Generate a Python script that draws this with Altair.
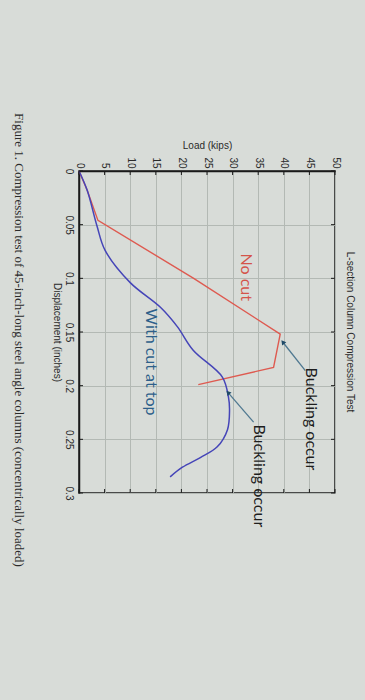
import math
import altair as alt
import pandas as pd

# ---------------- data ----------------
red_disp = [0.0, 0.018, 0.046, 0.100, 0.152, 0.183, 0.199]
red_load = [0.0, 1.6, 3.7, 22.4, 39.3, 38.0, 23.3]

blue_disp = [0.0, 0.018, 0.051, 0.074, 0.104, 0.127, 0.145, 0.167, 0.192,
             0.211, 0.223, 0.241, 0.257, 0.267, 0.276, 0.285]
blue_load = [0.0, 1.6, 3.5, 5.1, 10.0, 15.9, 19.2, 22.3, 28.0,
             29.2, 29.4, 29.0, 27.0, 23.7, 20.2, 17.8]

load_ticks = [0, 5, 10, 15, 20, 25, 30, 35, 40, 45, 50]
disp_ticks = [0, 0.05, 0.1, 0.15, 0.2, 0.25, 0.3]

note_text = ["No cut", "With cut at top", "Buckling occur", "Buckling occur"]
note_load = [32.7, 14.1, 45.4, 35.2]
note_disp = [0.099, 0.178, 0.231, 0.284]
note_color = ["#d4544a", "#2d5f8a", "#1e1e1e", "#1e1e1e"]

arrow_load = [44.2, 34.1]
arrow_disp = [0.186, 0.234]
arrow_load2 = [39.9, 29.2]
arrow_disp2 = [0.160, 0.207]

title_text = "L-section Column Compression Test"
caption_text = ("Figure 1. Compression test of 45-inch-long steel angle "
                "columns (concentrically loaded)")

# ---------------- layout / style ----------------
W, H = 256, 322
TICK = 4
BG = "#d8dcd8"
AXIS_FONT = "Liberation Sans"
NOTE_FONT = "Lato"

red_df = pd.DataFrame({"disp": red_disp, "load": red_load,
                       "i": list(range(len(red_disp)))})
blue_df = pd.DataFrame({"disp": blue_disp, "load": blue_load,
                        "i": list(range(len(blue_disp)))})
notes_df = pd.DataFrame({"text": note_text, "load": note_load,
                         "disp": note_disp, "color": note_color})

angles = []
for l1, d1, l2, d2 in zip(arrow_load, arrow_disp, arrow_load2, arrow_disp2):
    dx = (l2 - l1) * W / 50.0
    dy = (d2 - d1) * H / 0.3
    angles.append(math.degrees(math.atan2(dx, -dy)) % 360)
arrows_df = pd.DataFrame({"load": arrow_load, "disp": arrow_disp,
                          "load2": arrow_load2, "disp2": arrow_disp2,
                          "ang": angles})

x_scale = alt.Scale(domain=[0, 50], nice=False, zero=False)
y_scale = alt.Scale(domain=[0, 0.3], nice=False, reverse=True)
x_axis = alt.Axis(
    orient="top", values=load_ticks, title="Load (kips)",
    labelAngle=90, labelAlign="right", labelBaseline="middle",
    labelPadding=3, labelOverlap=False, labelFlush=False,
    tickSize=0, grid=True, titleAngle=0,
    titlePadding=6, labelFont=AXIS_FONT, labelFontSize=10,
    titleFont=AXIS_FONT, titleFontSize=10, titleFontWeight="normal",
    labelColor="#2a2a2a", titleColor="#2a2a2a",
    domainColor="#1a1a1a", domainWidth=1.5,
    gridColor="#b3b9b4", gridWidth=1,
)
y_axis = alt.Axis(
    orient="left", values=disp_ticks, format="~g",
    title="Displacement (inches)",
    labelAngle=90, labelAlign="center", labelBaseline="top",
    labelPadding=6, labelOverlap=False, labelFlush=False,
    tickSize=0, grid=True, titleAngle=90,
    titleBaseline="top", titleAlign="center", titlePadding=2,
    labelFont=AXIS_FONT, labelFontSize=10,
    titleFont=AXIS_FONT, titleFontSize=10, titleFontWeight="normal",
    labelColor="#2a2a2a", titleColor="#2a2a2a",
    domainColor="#1a1a1a", domainWidth=1.5,
    gridColor="#b3b9b4", gridWidth=1,
)


def X(field):
    return alt.X(field, type="quantitative", scale=x_scale, axis=x_axis)


def Y(field):
    return alt.Y(field, type="quantitative", scale=y_scale, axis=y_axis)


red_line = alt.Chart(red_df).mark_line(color="#de5a50", strokeWidth=1.4).encode(
    x=X("load"), y=Y("disp"), order="i:Q")
blue_line = alt.Chart(blue_df).mark_line(
    color="#4545b8", strokeWidth=1.5, interpolate="catmull-rom").encode(
    x=X("load"), y=Y("disp"), order="i:Q")

tx = pd.DataFrame({"load": load_ticks})
ty = pd.DataFrame({"disp": disp_ticks})
tick_top = alt.Chart(tx).mark_rule(color="#1a1a1a").encode(
    x=X("load"), y=alt.value(0), y2=alt.value(TICK))
tick_bot = alt.Chart(tx).mark_rule(color="#1a1a1a").encode(
    x=X("load"), y=alt.value(H), y2=alt.value(H - TICK))
tick_left = alt.Chart(ty).mark_rule(color="#1a1a1a").encode(
    y=Y("disp"), x=alt.value(0), x2=alt.value(TICK))
tick_right = alt.Chart(ty).mark_rule(color="#1a1a1a").encode(
    y=Y("disp"), x=alt.value(W), x2=alt.value(W - TICK))

arrow_lines = alt.Chart(arrows_df).mark_rule(color="#4f7890", strokeWidth=1.3).encode(
    x=X("load"), y=Y("disp"), x2="load2:Q", y2="disp2:Q")
arrow_heads = alt.Chart(arrows_df).mark_point(
    shape="triangle", filled=True, size=28, color="#1f4a68", opacity=1).encode(
    x=X("load2"), y=Y("disp2"), angle=alt.Angle("ang:Q", scale=None))

notes = alt.Chart(notes_df).mark_text(
    angle=90, align="center", baseline="middle", font=NOTE_FONT, fontSize=16).encode(
    x=X("load"), y=Y("disp"), text="text:N", color=alt.Color("color:N", scale=None))

caption = alt.Chart(pd.DataFrame({"text": [caption_text]})).mark_text(
    angle=90, align="center", baseline="middle", font="Liberation Serif",
    fontSize=13, color="#2b2b2b").encode(
    x=alt.value(-60), y=alt.value(169), text="text:N")

chart = alt.layer(
    red_line, blue_line, tick_top, tick_bot, tick_left, tick_right,
    arrow_lines, arrow_heads, notes, caption,
).properties(
    width=W, height=H,
    autosize=alt.AutoSizeParams(type="none"),
    padding={"left": 79, "top": 171, "right": 30, "bottom": 207},
    background=BG,
    title=alt.TitleParams(
        title_text, orient="right", anchor="middle", fontSize=10,
        fontWeight="normal", font=AXIS_FONT, color="#2a2a2a", offset=5),
).configure_view(stroke="#1a1a1a", strokeWidth=1.5)

chart.save("out.html", embed_options={"renderer": "svg", "actions": False})
